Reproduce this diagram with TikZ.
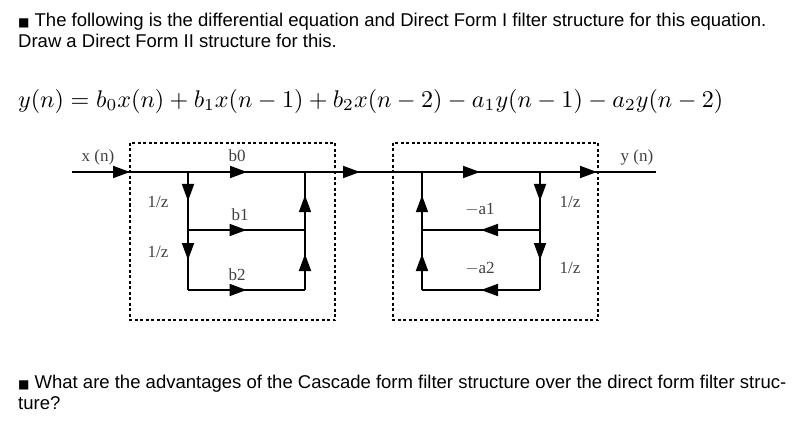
\documentclass[tikz,border=0pt]{standalone}
\usepackage{fontspec}
\setmainfont{Liberation Sans}
\newfontfamily\serf{Liberation Serif}
\newfontfamily\djv{DejaVu Sans}
\usetikzlibrary{arrows.meta,decorations.markings}
\begin{document}
\begin{tikzpicture}[x=1pt,y=-1pt,
  wire/.style={line width=1.8pt},
  ar/.style={wire,postaction={decorate},decoration={markings,mark=at position #1 with {\arrow{Triangle[length=17pt,width=12pt]}}}},
  dbox/.style={dashed,line width=1.3pt,dash pattern=on 3pt off 2.5pt},
  lab/.style={font=\serf\fontsize{17}{17}\selectfont,text=black!75},
  txt/.style={font=\fontsize{18.5}{21}\selectfont,anchor=north west,align=left,inner sep=0}]
\useasboundingbox (0,0) rectangle (809,425);
\fill[white] (0,0) rectangle (809,425);
\node[txt] (h1) at (18,13) {{\djv\fontsize{12}{12}\selectfont■} The following is the differential equation and Direct Form I filter structure for this equation.\\Draw a Direct Form II structure for this.};
\node[anchor=west,inner sep=0] (eq) at (18,101) {\resizebox{705pt}{!}{$y(n)=b_0x(n)+b_1x(n-1)+b_2x(n-2)-a_1y(n-1)-a_2y(n-2)$}};
\node[txt] (h2) at (18,375) {{\djv\fontsize{12}{12}\selectfont■} What are the advantages of the Cascade form filter structure over the direct form filter struc-\\ture?};
% boxes
\draw[dbox] (130,143) rectangle (335,320);
\draw[dbox] (393,143) rectangle (598,320);
% coordinates
\coordinate (in) at (72,172);
\coordinate (L0) at (188,172); \coordinate (L1) at (188,230); \coordinate (L2) at (188,290);
\coordinate (R0) at (305,172); \coordinate (R1) at (305,230); \coordinate (R2) at (305,290);
\coordinate (P0) at (422,172); \coordinate (P1) at (422,230); \coordinate (P2) at (422,290);
\coordinate (Q0) at (540,172); \coordinate (Q1) at (540,230); \coordinate (Q2) at (540,290);
\coordinate (out) at (656,172);
\coordinate (bx1) at (130,172); \coordinate (m1) at (247,172); \coordinate (bx2) at (360,172); \coordinate (bx3) at (480,172); \coordinate (bx4) at (597,172);
% main line
\draw[ar=1] (in) -- (bx1);
\draw[ar=1] (bx1) -- (m1);
\draw[wire] (m1) -- (R0);
\draw[ar=1] (R0) -- (bx2);
\draw[ar=1] (bx2) -- (bx3);
\draw[ar=1] (bx3) -- (bx4);
\draw[wire] (bx4) -- (out);
% left section
\draw[ar=0.5] (L0) -- (L1);
\draw[ar=0.5] (L1) -- (L2);
\draw[ar=0.5] (L1) -- (R1);
\draw[ar=0.5] (L2) -- (R2);
\draw[ar=0.6] (R2) -- (R1);
\draw[ar=0.6] (R1) -- (R0);
% right section
\draw[ar=0.5] (Q0) -- (Q1);
\draw[ar=0.5] (Q1) -- (Q2);
\draw[ar=0.5] (Q1) -- (P1);
\draw[ar=0.5] (Q2) -- (P2);
\draw[ar=0.6] (P2) -- (P1);
\draw[ar=0.6] (P1) -- (P0);
% labels
\node[lab] (lx) at (98,157) {x (n)};
\node[lab] (ly) at (637,157) {y (n)};
\node[lab] (lb0) at (237,156) {b0};
\node[lab] (lb1) at (240,215) {b1};
\node[lab] (lb2) at (237,275) {b2};
\node[lab] (z1) at (158,202) {1/z};
\node[lab] (z2) at (158,252) {1/z};
\node[lab] (la1) at (480,210) {$-$a1};
\node[lab] (la2) at (480,269) {$-$a2};
\node[lab] (z3) at (570,202) {1/z};
\node[lab] (z4) at (570,268) {1/z};
\end{tikzpicture}
\end{document}
